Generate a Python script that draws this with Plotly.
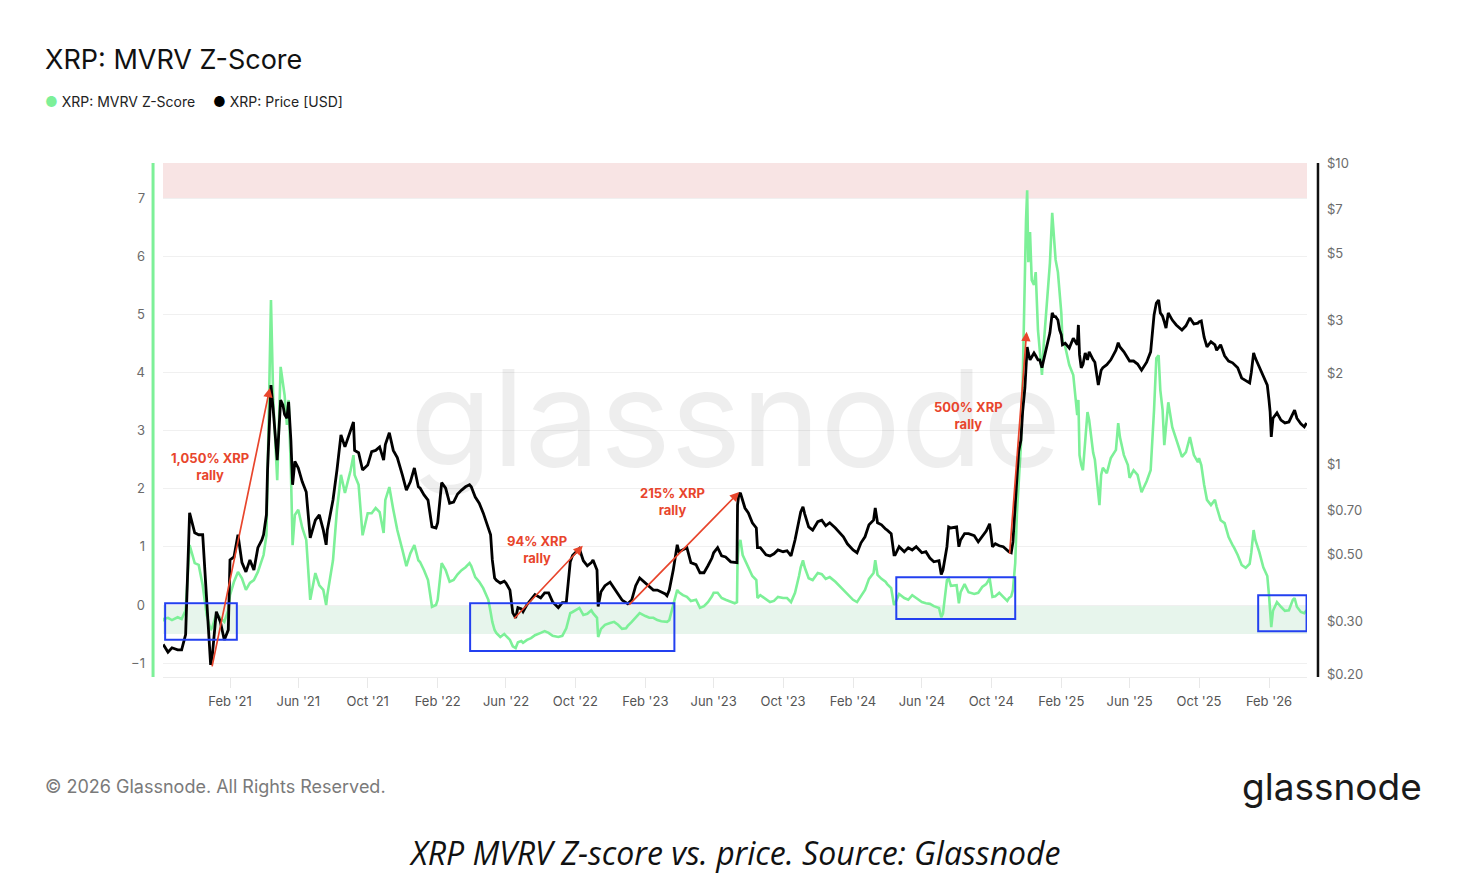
import numpy as np
import plotly.graph_objects as go

# ---------------- data ----------------
dates = [
    "2020-10-06", "2020-10-08", "2020-10-15", "2020-10-22", "2020-11-01", "2020-11-08", "2020-11-15", "2020-11-22",
    "2020-12-01", "2020-12-08", "2020-12-15", "2020-12-22", "2020-12-29",
    "2021-01-01", "2021-01-08", "2021-01-15", "2021-01-22", "2021-01-29", "2021-02-01", "2021-02-08", "2021-02-15",
    "2021-02-22", "2021-03-01", "2021-03-08", "2021-03-15", "2021-03-22", "2021-03-29", "2021-04-01", "2021-04-06",
    "2021-04-08", "2021-04-13", "2021-04-14", "2021-04-18", "2021-04-22", "2021-04-25", "2021-05-01", "2021-05-05",
    "2021-05-08", "2021-05-12", "2021-05-15", "2021-05-19", "2021-05-22", "2021-05-26", "2021-06-01", "2021-06-08",
    "2021-06-15", "2021-06-22", "2021-07-01", "2021-07-08", "2021-07-15", "2021-07-20", "2021-07-22", "2021-08-01",
    "2021-08-08", "2021-08-15", "2021-08-22", "2021-09-01", "2021-09-06", "2021-09-08", "2021-09-15", "2021-09-22",
    "2021-10-01", "2021-10-08", "2021-10-15", "2021-10-22", "2021-10-29", "2021-11-01", "2021-11-08", "2021-11-15",
    "2021-11-22", "2021-12-01", "2021-12-08", "2021-12-15", "2021-12-22", "2021-12-29",
    "2022-01-01", "2022-01-08", "2022-01-15", "2022-01-22", "2022-01-29", "2022-02-01", "2022-02-08", "2022-02-15",
    "2022-02-22", "2022-03-01", "2022-03-08", "2022-03-15", "2022-03-22", "2022-03-29", "2022-04-01", "2022-04-08",
    "2022-04-15", "2022-04-22", "2022-05-01", "2022-05-05", "2022-05-08", "2022-05-12", "2022-05-15", "2022-05-22",
    "2022-05-29", "2022-06-01", "2022-06-08", "2022-06-13", "2022-06-18", "2022-06-22", "2022-06-28", "2022-07-01",
    "2022-07-08", "2022-07-15", "2022-07-22", "2022-08-01", "2022-08-08", "2022-08-15", "2022-08-22", "2022-09-01",
    "2022-09-08", "2022-09-15", "2022-09-22", "2022-09-26", "2022-10-01", "2022-10-08", "2022-10-15", "2022-10-22",
    "2022-10-29", "2022-11-01", "2022-11-08", "2022-11-10", "2022-11-15", "2022-11-22", "2022-12-01", "2022-12-08",
    "2022-12-15", "2022-12-22", "2022-12-29",
    "2023-01-01", "2023-01-08", "2023-01-15", "2023-01-22", "2023-02-01", "2023-02-08", "2023-02-15", "2023-02-22",
    "2023-03-01", "2023-03-08", "2023-03-11", "2023-03-15", "2023-03-22", "2023-03-29", "2023-04-01", "2023-04-08",
    "2023-04-15", "2023-04-22", "2023-05-01", "2023-05-08", "2023-05-15", "2023-05-22", "2023-05-29", "2023-06-01",
    "2023-06-08", "2023-06-15", "2023-06-22", "2023-07-01", "2023-07-08", "2023-07-12", "2023-07-13", "2023-07-15",
    "2023-07-18", "2023-07-22", "2023-07-26", "2023-08-01", "2023-08-08", "2023-08-15", "2023-08-17", "2023-08-22",
    "2023-09-01", "2023-09-08", "2023-09-15", "2023-09-22", "2023-10-01", "2023-10-08", "2023-10-15", "2023-10-22",
    "2023-10-29", "2023-11-01", "2023-11-05", "2023-11-08", "2023-11-15", "2023-11-22", "2023-12-01", "2023-12-08",
    "2023-12-15", "2023-12-22",
    "2024-01-01", "2024-01-08", "2024-01-15", "2024-01-22", "2024-02-01", "2024-02-08", "2024-02-15", "2024-02-22",
    "2024-02-29", "2024-03-08", "2024-03-11", "2024-03-15", "2024-03-22", "2024-03-29", "2024-04-01", "2024-04-08",
    "2024-04-13", "2024-04-15", "2024-04-22", "2024-05-01", "2024-05-08", "2024-05-15", "2024-05-22", "2024-06-01",
    "2024-06-08", "2024-06-15", "2024-06-22", "2024-07-01", "2024-07-05", "2024-07-08", "2024-07-15", "2024-07-18",
    "2024-07-22", "2024-08-01", "2024-08-05", "2024-08-08", "2024-08-15", "2024-08-22", "2024-09-01", "2024-09-08",
    "2024-09-15", "2024-09-22", "2024-09-28", "2024-10-01", "2024-10-03", "2024-10-08", "2024-10-15", "2024-10-22",
    "2024-10-29", "2024-11-01", "2024-11-05", "2024-11-08", "2024-11-12", "2024-11-15", "2024-11-18", "2024-11-22",
    "2024-11-25", "2024-11-29", "2024-12-01", "2024-12-03", "2024-12-05", "2024-12-08", "2024-12-11", "2024-12-15",
    "2024-12-18", "2024-12-22", "2024-12-25", "2024-12-29",
    "2025-01-01", "2025-01-05", "2025-01-08", "2025-01-12", "2025-01-16", "2025-01-19", "2025-01-22", "2025-01-26",
    "2025-01-29", "2025-02-01", "2025-02-03", "2025-02-08", "2025-02-15", "2025-02-22", "2025-03-01", "2025-03-03",
    "2025-03-05", "2025-03-08", "2025-03-11", "2025-03-15", "2025-03-19", "2025-03-22", "2025-03-29", "2025-04-01",
    "2025-04-07", "2025-04-09", "2025-04-12", "2025-04-15", "2025-04-22", "2025-04-29", "2025-05-08", "2025-05-12",
    "2025-05-15", "2025-05-22", "2025-05-29", "2025-06-01", "2025-06-08", "2025-06-15", "2025-06-22", "2025-06-29",
    "2025-07-01", "2025-07-08", "2025-07-11", "2025-07-14", "2025-07-18", "2025-07-22", "2025-07-25", "2025-07-29",
    "2025-08-01", "2025-08-04", "2025-08-08", "2025-08-15", "2025-08-22", "2025-08-29", "2025-09-01", "2025-09-08",
    "2025-09-15", "2025-09-22", "2025-09-29", "2025-10-01", "2025-10-05", "2025-10-10", "2025-10-15", "2025-10-22",
    "2025-10-29", "2025-11-01", "2025-11-08", "2025-11-15", "2025-11-22", "2025-11-29", "2025-12-01", "2025-12-08",
    "2025-12-15", "2025-12-22", "2025-12-29",
    "2026-01-01", "2026-01-05", "2026-01-08", "2026-01-15", "2026-01-22", "2026-01-29", "2026-02-01", "2026-02-03",
    "2026-02-05", "2026-02-08", "2026-02-15", "2026-02-22", "2026-03-01", "2026-03-08", "2026-03-15", "2026-03-18",
    "2026-03-22", "2026-03-29", "2026-04-04", "2026-04-08",
]

price_usd = [
    0.247, 0.249, 0.237, 0.245, 0.241, 0.241, 0.271, 0.688,
    0.591, 0.582, 0.582, 0.353, 0.215,
    0.232, 0.323, 0.299, 0.260, 0.281, 0.480, 0.491, 0.582,
    0.470, 0.438, 0.480, 0.444, 0.527, 0.559, 0.582, 0.678,
    0.955, 1.80, 1.83, 1.51, 1.16, 1.03, 1.63, 1.57,
    1.46, 1.42, 1.61, 1.20, 0.853, 1.02, 0.97, 0.873,
    0.807, 0.568, 0.651, 0.678, 0.603, 0.539, 0.603, 0.759,
    0.955, 1.25, 1.14, 1.30, 1.38, 1.11, 1.09, 0.955,
    0.992, 1.10, 1.11, 1.14, 1.03, 1.16, 1.27, 1.11,
    1.05, 0.919, 0.819, 0.873, 0.970, 0.840,
    0.832, 0.789, 0.759, 0.618, 0.613, 0.638, 0.867, 0.832,
    0.741, 0.747, 0.795, 0.819, 0.840, 0.853, 0.840, 0.777,
    0.741, 0.688, 0.618, 0.582, 0.480, 0.418, 0.411, 0.402,
    0.408, 0.402, 0.381, 0.320, 0.308, 0.333, 0.330, 0.323,
    0.341, 0.353, 0.368, 0.359, 0.373, 0.373, 0.348, 0.333,
    0.346, 0.346, 0.473, 0.496, 0.507, 0.523, 0.477, 0.459,
    0.470, 0.480, 0.444, 0.336, 0.376, 0.394, 0.405, 0.387,
    0.368, 0.353, 0.346,
    0.343, 0.353, 0.394, 0.418, 0.402, 0.394, 0.381, 0.381,
    0.376, 0.370, 0.365, 0.381, 0.444, 0.539, 0.511, 0.518,
    0.527, 0.470, 0.463, 0.435, 0.435, 0.459, 0.487, 0.507,
    0.527, 0.495, 0.491, 0.473, 0.470, 0.470, 0.732, 0.789,
    0.801, 0.759, 0.714, 0.688, 0.638, 0.613, 0.527, 0.527,
    0.499, 0.495, 0.503, 0.518, 0.511, 0.515, 0.495, 0.559,
    0.643, 0.693, 0.721, 0.683, 0.618, 0.603, 0.643, 0.651,
    0.623, 0.638,
    0.613, 0.594, 0.573, 0.543, 0.518, 0.507, 0.547, 0.573,
    0.628, 0.651, 0.714, 0.638, 0.628, 0.608, 0.603, 0.587,
    0.499, 0.499, 0.531, 0.511, 0.527, 0.518, 0.531, 0.507,
    0.511, 0.487, 0.473, 0.477, 0.429, 0.444, 0.531, 0.618,
    0.613, 0.618, 0.531, 0.559, 0.587, 0.587, 0.578, 0.551,
    0.573, 0.599, 0.633, 0.573, 0.531, 0.543, 0.535, 0.531,
    0.515, 0.511, 0.507, 0.551, 0.732, 0.885, 1.10, 1.20,
    1.49, 1.79, 2.14, 2.45, 2.34, 2.22, 2.27, 2.34,
    2.29, 2.22, 2.22, 2.09,
    2.22, 2.39, 2.49, 2.73, 3.18, 3.09, 3.09, 3.01,
    2.79, 2.69, 2.49, 2.52, 2.43, 2.62, 2.49, 2.90,
    2.31, 2.09, 2.14, 2.34, 2.22, 2.36, 2.22, 2.18,
    1.83, 1.90, 2.05, 2.09, 2.14, 2.22, 2.39, 2.53,
    2.45, 2.36, 2.25, 2.20, 2.20, 2.15, 2.05, 2.17,
    2.18, 2.36, 2.69, 3.13, 3.43, 3.51, 3.18, 3.10,
    2.97, 2.83, 3.18, 3.01, 2.90, 2.83, 2.79, 2.88,
    3.06, 2.92, 2.94, 2.97, 2.99, 2.64, 2.45, 2.55,
    2.49, 2.39, 2.49, 2.29, 2.20, 2.17, 2.15, 2.09,
    1.93, 1.89, 1.86,
    2.02, 2.34, 2.25, 2.10, 1.95, 1.83, 1.63, 1.49,
    1.23, 1.42, 1.48, 1.40, 1.37, 1.38, 1.47, 1.51,
    1.42, 1.36, 1.33, 1.37,
]

mvrv_z = [
    -0.28, -0.24, -0.22, -0.26, -0.21, -0.24, -0.09, 1.03,
    0.72, 0.69, 0.34, -0.17, -0.43,
    -0.38, -0.15, -0.22, -0.29, -0.09, 0.17, 0.40, 0.57,
    0.46, 0.26, 0.38, 0.43, 0.57, 0.77, 0.86, 1.20,
    2.15, 4.73, 5.25, 3.53, 2.84, 2.15, 4.10, 3.79,
    3.61, 3.10, 3.53, 2.32, 1.03, 1.55, 1.64, 1.33,
    1.12, 0.09, 0.55, 0.34, 0.26, 0.00, 0.17, 0.77,
    1.64, 2.24, 1.93, 2.32, 2.58, 2.24, 2.07, 1.20,
    1.58, 1.58, 1.67, 1.60, 1.24, 1.81, 2.03, 1.64,
    1.29, 0.95, 0.67, 0.89, 1.03, 0.77,
    0.74, 0.60, 0.43, -0.03, 0.00, 0.09, 0.72, 0.60,
    0.40, 0.43, 0.53, 0.60, 0.65, 0.72, 0.67, 0.48,
    0.40, 0.29, 0.09, -0.12, -0.29, -0.43, -0.48, -0.55,
    -0.50, -0.53, -0.60, -0.71, -0.74, -0.64, -0.62, -0.65,
    -0.60, -0.57, -0.52, -0.48, -0.45, -0.48, -0.53, -0.55,
    -0.53, -0.40, -0.14, -0.12, -0.09, -0.05, -0.17, -0.15,
    -0.09, -0.14, -0.22, -0.55, -0.41, -0.34, -0.31, -0.29,
    -0.34, -0.41, -0.40,
    -0.36, -0.29, -0.22, -0.14, -0.19, -0.22, -0.22, -0.26,
    -0.28, -0.29, -0.29, -0.26, 0.02, 0.26, 0.22, 0.17,
    0.14, 0.07, 0.09, -0.05, -0.02, 0.05, 0.15, 0.21,
    0.21, 0.12, 0.09, 0.05, 0.03, 0.05, 0.77, 1.03,
    1.12, 0.86, 0.77, 0.64, 0.50, 0.43, 0.12, 0.17,
    0.09, 0.05, 0.07, 0.14, 0.12, 0.12, 0.05, 0.21,
    0.50, 0.65, 0.77, 0.65, 0.46, 0.43, 0.55, 0.53,
    0.45, 0.48,
    0.40, 0.33, 0.26, 0.19, 0.09, 0.05, 0.15, 0.26,
    0.45, 0.55, 0.77, 0.52, 0.45, 0.40, 0.36, 0.29,
    0.00, 0.03, 0.19, 0.12, 0.09, 0.17, 0.12, 0.05,
    0.03, 0.02, -0.02, -0.05, -0.21, -0.15, 0.43, 0.46,
    0.33, 0.34, 0.03, 0.22, 0.36, 0.22, 0.19, 0.21,
    0.31, 0.36, 0.46, 0.26, 0.14, 0.15, 0.21, 0.14,
    0.07, 0.12, 0.15, 0.26, 0.72, 1.58, 2.19, 2.75,
    3.79, 5.85, 6.63, 7.14, 5.90, 6.42, 5.59, 5.51,
    5.73, 4.73, 4.39, 3.96,
    4.47, 4.99, 5.34, 5.89, 6.75, 6.28, 5.94, 5.73,
    5.42, 5.03, 4.56, 4.44, 4.13, 3.96, 3.27, 3.53,
    2.58, 2.41, 2.32, 2.84, 3.32, 3.18, 2.62, 2.50,
    1.81, 1.72, 2.24, 2.36, 2.27, 2.53, 2.67, 3.13,
    2.89, 2.58, 2.41, 2.19, 2.32, 2.24, 1.94, 2.08,
    2.13, 2.32, 2.75, 3.36, 4.25, 4.30, 3.70, 3.36,
    2.75, 3.10, 3.49, 3.06, 2.84, 2.62, 2.55, 2.63,
    2.89, 2.58, 2.46, 2.53, 2.41, 2.07, 1.81, 1.72,
    1.81, 1.69, 1.46, 1.41, 1.17, 1.03, 1.00, 0.86,
    0.69, 0.64, 0.71,
    0.91, 1.29, 1.12, 0.91, 0.65, 0.50, 0.17, -0.10,
    -0.38, -0.10, 0.05, -0.03, -0.10, -0.09, 0.09, 0.12,
    -0.03, -0.12, -0.14, -0.09,
]

z_ticks = [-1, 0, 1, 2, 3, 4, 5, 6, 7]
price_ticks = [0.2, 0.3, 0.5, 0.7, 1, 2, 3, 5, 7, 10]
price_tick_text = ["$0.20", "$0.30", "$0.50", "$0.70", "$1", "$2", "$3", "$5", "$7", "$10"]
x_tick_dates = ["2021-02-01", "2021-06-01", "2021-10-01", "2022-02-01", "2022-06-01", "2022-10-01",
                "2023-02-01", "2023-06-01", "2023-10-01", "2024-02-01", "2024-06-01", "2024-10-01",
                "2025-02-01", "2025-06-01", "2025-10-01", "2026-02-01"]
x_tick_text = ["Feb '21", "Jun '21", "Oct '21", "Feb '22", "Jun '22", "Oct '22", "Feb '23", "Jun '23",
               "Oct '23", "Feb '24", "Jun '24", "Oct '24", "Feb '25", "Jun '25", "Oct '25", "Feb '26"]

# rally arrows: (tail date, tail price, head date, head price)
rally_arrows = [
    ("2020-12-31", 0.210, "2021-04-12", 1.79),
    ("2022-06-13", 0.303, "2022-10-14", 0.535),
    ("2023-01-01", 0.337, "2023-07-16", 0.807),
    ("2024-11-02", 0.498, "2024-12-02", 2.75),
]
rally_labels = ["1,050% XRP<br>rally", "94% XRP<br>rally", "215% XRP<br>rally", "500% XRP<br>rally"]
# highlight boxes (start, end, z low, z high)
boxes = [
    ("2020-10-10", "2021-02-13", -0.60, 0.03),
    ("2022-03-30", "2023-03-24", -0.79, 0.03),
    ("2024-04-17", "2024-11-12", -0.24, 0.48),
    ("2026-01-13", "2026-04-08", -0.45, 0.17),
]

# ---------------- styles ----------------
GREEN = "#7DF098"
RED = "#E8452C"
BLUE = "#2340F0"
FONT = "Inter"
TICK_COLOR = "#6b6b6b"

fig = go.Figure()

fig.add_trace(go.Scatter(x=dates, y=mvrv_z, mode="lines", name="XRP: MVRV Z-Score",
                         line=dict(color=GREEN, width=2.6), yaxis="y", showlegend=False))
fig.add_trace(go.Scatter(x=dates, y=price_usd, mode="lines", name="XRP: Price [USD]",
                         line=dict(color="#000000", width=2.8), yaxis="y2", showlegend=False))

shapes = [
    dict(type="rect", xref="paper", yref="y", x0=0, x1=1, y0=7, y1=7.608,
         fillcolor="#F8E4E4", line=dict(width=0), layer="below"),
    dict(type="rect", xref="paper", yref="y", x0=0, x1=1, y0=-0.5, y1=0,
         fillcolor="#E7F5EC", line=dict(width=0), layer="below"),
    dict(type="line", xref="paper", yref="paper", x0=-0.0087, x1=-0.0087, y0=0, y1=1,
         line=dict(color=GREEN, width=3)),
    dict(type="line", xref="paper", yref="paper", x0=1.0096, x1=1.0096, y0=0, y1=1,
         line=dict(color="#111111", width=2.5)),
]
for x0, x1, z0, z1 in boxes:
    shapes.append(dict(type="rect", xref="x", yref="y", x0=x0, x1=x1, y0=z0, y1=z1,
                       line=dict(color=BLUE, width=2), fillcolor="rgba(0,0,0,0)"))

annotations = [
    # watermark
    dict(text="glassnode", xref="paper", yref="paper", x=0.5, y=0.505, showarrow=False,
         font=dict(family=FONT, size=134, color="rgba(0,0,0,0.065)"), xanchor="center", yanchor="middle"),
    # title
    dict(text="XRP: MVRV Z-Score", xref="paper", yref="paper", x=-0.1045, y=1.2004, showarrow=False,
         font=dict(family=FONT, size=27, color="#111111"), xanchor="left", yanchor="middle"),
    # legend
    dict(text=f"<span style='color:{GREEN}'>●</span> XRP: MVRV Z-Score", xref="paper", yref="paper",
         x=-0.1045, y=1.1187, showarrow=False, font=dict(family=FONT, size=14, color="#222222"),
         xanchor="left", yanchor="middle"),
    dict(text="<span style='color:#000000'>●</span> XRP: Price [USD]", xref="paper", yref="paper",
         x=0.0420, y=1.1187, showarrow=False, font=dict(family=FONT, size=14, color="#222222"),
         xanchor="left", yanchor="middle"),
    # footer
    dict(text="© 2026 Glassnode. All Rights Reserved.", xref="paper", yref="paper", x=-0.1045, y=-0.2121,
         showarrow=False, font=dict(family=FONT, size=18, color="#7a7a7a"), xanchor="left", yanchor="middle"),
    dict(text="glassnode", xref="paper", yref="paper", x=1.1023, y=-0.2140, showarrow=False,
         font=dict(family=FONT, size=37, color="#1a1a1a"), xanchor="right", yanchor="middle"),
    dict(text="<i>XRP MVRV Z-score vs. price. Source: Glassnode</i>", xref="paper", yref="paper",
         x=0.5, y=-0.3424, showarrow=False, font=dict(family="Open Sans", size=32, color="#111111"),
         xanchor="center", yanchor="middle"),
]

label_pos = [(0.0411, 0.4105), (0.3269, 0.2471), (0.4458, 0.3405), (0.7037, 0.5097)]
for (lx, ly), txt in zip(label_pos, rally_labels):
    annotations.append(dict(text=f"<b>{txt}</b>", xref="paper", yref="paper", x=lx, y=ly, showarrow=False,
                            font=dict(family=FONT, size=13, color=RED), xanchor="center", yanchor="middle",
                            align="center"))

for td, tp, hd, hp in rally_arrows:
    annotations.append(dict(text="", xref="x", yref="y2", x=hd, y=float(np.log10(hp)),
                            axref="x", ayref="y2", ax=td, ay=float(np.log10(tp)), showarrow=True,
                            arrowhead=2, arrowsize=1.1, arrowwidth=1.7, arrowcolor=RED, standoff=0))

fig.update_layout(
    width=1464, height=886,
    margin=dict(l=163, r=157, t=163, b=209),
    paper_bgcolor="white", plot_bgcolor="white",
    font=dict(family=FONT, color=TICK_COLOR, size=13),
    shapes=shapes, annotations=annotations, showlegend=False,
    xaxis=dict(type="date", range=["2020-10-06 06:00", "2026-04-08 19:00"],
               tickvals=x_tick_dates, ticktext=x_tick_text, tickfont=dict(size=13, color="#555555"),
               ticks="outside", ticklen=10, tickcolor="#e8e8e8", showgrid=False,
               showline=True, linecolor="#ececec", linewidth=1, zeroline=False, ticklabelstandoff=2),
    yaxis=dict(range=[-1.239, 7.608], tickvals=z_ticks, showgrid=True, gridcolor="#f0f0f0", gridwidth=1,
               zeroline=False, tickfont=dict(size=13, color=TICK_COLOR), ticks="", ticklabelstandoff=17),
    yaxis2=dict(type="log", range=[-0.708, 1.0007], overlaying="y", side="right",
                tickvals=price_ticks, ticktext=price_tick_text, showgrid=False, zeroline=False,
                tickfont=dict(size=13, color=TICK_COLOR), ticks="", ticklabelstandoff=19),
)

fig.write_html("out.html")
